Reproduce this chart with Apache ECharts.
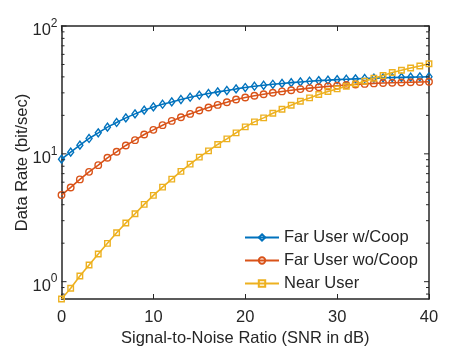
<!DOCTYPE html>
<html><head><meta charset="utf-8">
<script src="https://cdn.jsdelivr.net/npm/echarts@6/dist/echarts.min.js"></script>
<style>html,body{margin:0;padding:0;background:#fff}#c{width:474px;height:355px}</style>
</head><body><div id="c"></div>
<script>
const snr = [0,1,2,3,4,5,6,7,8,9,10,11,12,13,14,15,16,17,18,19,20,21,22,23,24,25,26,27,28,29,30,31,32,33,34,35,36,37,38,39,40];
const farCoop = [9.09,10.31,11.69,13.19,14.59,16.17,17.60,19.11,20.54,21.95,23.29,24.45,25.48,26.61,27.73,28.75,29.64,30.51,31.29,32.2,33.02,33.8,34.4,35.0,35.54,36.06,36.52,36.98,37.39,37.72,38.06,38.33,38.61,38.88,39.1,39.3,39.52,39.66,39.81,39.96,40.1];
const farNoCoop = [4.76,5.46,6.31,7.23,8.16,9.31,10.37,11.63,12.8,14.18,15.4,16.76,18.1,19.35,20.54,21.83,23.04,24.15,25.34,26.61,27.58,28.49,29.27,30.07,30.78,31.46,32.08,32.67,33.2,33.68,34.1,34.54,34.91,35.23,35.55,35.8,36.0,36.19,36.33,36.45,36.59];
const nearUser = [0.732,0.888,1.108,1.351,1.646,1.995,2.415,2.875,3.399,4.025,4.73,5.49,6.34,7.29,8.31,9.42,10.55,11.84,13.1,14.59,16.25,17.78,19.11,20.8,22.35,24.02,25.8,27.38,29.12,30.73,32.2,33.8,35.23,36.98,39.03,40.98,43.24,45.08,46.98,48.7,50.67];
const seriesNames = ['Far User w/Coop','Far User wo/Coop','Near User'];
const xTicks = [0,10,20,30,40];
const yMajor = [1,10,100];
const yMinor = [0.8,0.9,2,3,4,5,6,7,8,9,20,30,40,50,60,70,80,90];
const yMin = 0.732, yMax = 100;

const FONT = '"Liberation Sans", Arial, Helvetica, sans-serif';
const FS = 16.5;
const AX = '#262626';
const colors = ['#0072BD','#D95319','#EDB120'];
const symbols = ['diamond','circle','rect'];
const symSizes = [[6,8],6.5,5.5];
const dataSets = [farCoop, farNoCoop, nearUser];

const chart = echarts.init(document.getElementById('c'), null, {renderer:'canvas'});

const lineSeries = dataSets.map((arr, k) => ({
  name: seriesNames[k],
  type: 'line',
  xAxisIndex: 0, yAxisIndex: 0,
  data: snr.map((x, i) => [x, arr[i]]),
  symbol: symbols[k],
  symbolSize: symSizes[k],
  showAllSymbol: true,
  lineStyle: {color: colors[k], width: 1.6},
  itemStyle: {color: 'rgba(255,255,255,0)', borderColor: colors[k], borderWidth: 1.4},
  emphasis: {disabled: true},
  animation: false,
  z: 3 + k
}));

const tickData = yMajor.concat(yMinor).map(v => [0, v]);
const tickSeries = {
  type: 'custom', silent: true, animation: false,
  xAxisIndex: 0, yAxisIndex: 0,
  data: tickData,
  encode: {x: 0, y: 1},
  clip: false,
  z: 10,
  renderItem: function (params, api) {
    const v = api.value(1);
    const y = api.coord([0, v])[1];
    const cs = params.coordSys;
    const len = yMajor.indexOf(v) >= 0 ? 5 : 3;
    const st = {stroke: AX, lineWidth: 1};
    return {type: 'group', children: [
      {type: 'line', shape: {x1: cs.x, y1: y, x2: cs.x + len, y2: y}, style: st},
      {type: 'line', shape: {x1: cs.x + cs.width, y1: y, x2: cs.x + cs.width - len, y2: y}, style: st}
    ]};
  }
};

const option = {
  backgroundColor: '#fff',
  animation: false,
  textStyle: {fontFamily: FONT},
  grid: {left: 61.5, right: 45, top: 26, bottom: 56, containLabel: false},
  legend: {
    data: seriesNames,
    orient: 'vertical',
    left: 244, top: 229,
    padding: 0,
    itemWidth: 34, itemHeight: 8, itemGap: 6,
    textStyle: {fontFamily: FONT, fontSize: FS, color: AX},
    backgroundColor: 'rgba(255,255,255,0)'
  },
  xAxis: [{
    type: 'value', min: 0, max: 40, interval: 10,
    position: 'bottom',
    name: 'Signal-to-Noise Ratio (SNR in dB)',
    nameLocation: 'middle', nameGap: 31, nameMoveOverlap: false,
    nameTextStyle: {fontFamily: FONT, fontSize: FS, color: AX},
    axisLine: {show: true, onZero: false, lineStyle: {color: AX, width: 1.5}},
    axisTick: {show: true, inside: true, length: 5, lineStyle: {color: AX, width: 1}},
    axisLabel: {fontFamily: FONT, fontSize: FS, color: AX, margin: 10,
      customValues: xTicks},
    splitLine: {show: false}
  }, {
    type: 'value', min: 0, max: 40, interval: 10,
    position: 'top',
    axisLine: {show: true, onZero: false, lineStyle: {color: AX, width: 1.5}},
    axisTick: {show: true, inside: true, length: 5, lineStyle: {color: AX, width: 1}},
    axisLabel: {show: false},
    splitLine: {show: false}
  }],
  yAxis: [{
    type: 'log', logBase: 10, min: yMin, max: yMax,
    position: 'left',
    name: 'Data Rate (bit/sec)',
    nameLocation: 'middle', nameGap: 31, nameMoveOverlap: false,
    nameTextStyle: {fontFamily: FONT, fontSize: FS, color: AX},
    axisLine: {show: true, onZero: false, lineStyle: {color: AX, width: 1.5}},
    axisTick: {show: false},
    axisLabel: {
      margin: 4,
      formatter: function (v) {
        const e = Math.round(Math.log10(v));
        if (Math.abs(v - Math.pow(10, e)) > 1e-6 * v) return '';
        return '{b|10}{s|' + e + '}';
      },
      rich: {
        b: {fontFamily: FONT, fontSize: FS, color: AX, padding: [9, 0, 0, 0]},
        s: {fontFamily: FONT, fontSize: 12, color: AX, padding: [0, 0, 5, 0]}
      }
    },
    splitLine: {show: false}
  }, {
    type: 'log', logBase: 10, min: yMin, max: yMax,
    position: 'right',
    axisLine: {show: true, onZero: false, lineStyle: {color: AX, width: 1.5}},
    axisTick: {show: false},
    axisLabel: {show: false},
    splitLine: {show: false}
  }],
  series: lineSeries.concat([tickSeries])
};
chart.setOption(option);
</script>
</body></html>
